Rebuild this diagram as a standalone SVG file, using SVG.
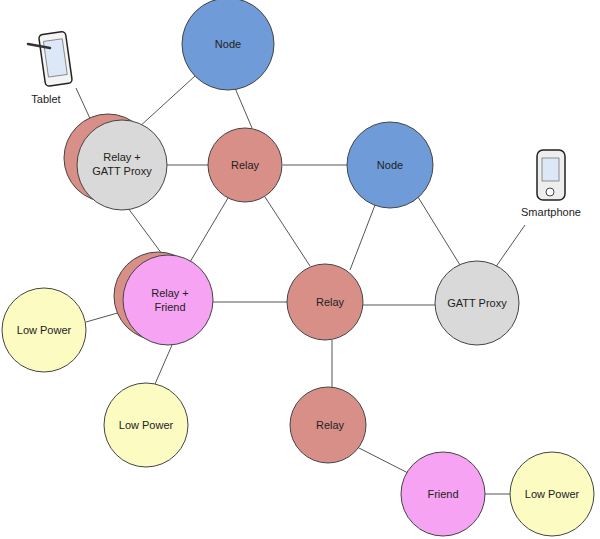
<svg xmlns="http://www.w3.org/2000/svg" width="600" height="539" viewBox="0 0 600 539">
<style>
text{font-family:"Liberation Sans",Arial,sans-serif;font-size:11px;fill:#222;text-anchor:middle}
circle{stroke:#444;stroke-width:1}
.relay{fill:#d88f88}.node{fill:#6f9bd8}.gray{fill:#d9d9d9}.friend{fill:#f7a3f3}.low{fill:#fbfbc2}
#connectors line{stroke:#555;stroke-width:1}
</style>
<rect width="600" height="539" fill="#fff"/>
<g id="connectors">
<line x1="76" y1="88" x2="93" y2="125"/>
<line x1="195" y1="76" x2="138" y2="128"/>
<line x1="235" y1="88" x2="252" y2="128"/>
<line x1="166" y1="165" x2="208" y2="165"/>
<line x1="283" y1="165" x2="347" y2="165"/>
<line x1="128" y1="208" x2="165" y2="258"/>
<line x1="228" y1="198" x2="190" y2="262"/>
<line x1="265" y1="197" x2="310" y2="266"/>
<line x1="375" y1="205" x2="350" y2="270"/>
<line x1="418" y1="197" x2="460" y2="265"/>
<line x1="525" y1="225" x2="495" y2="268"/>
<line x1="213" y1="302" x2="288" y2="302"/>
<line x1="363" y1="305" x2="435" y2="305"/>
<line x1="86" y1="322" x2="135" y2="308"/>
<line x1="155" y1="384" x2="172" y2="345"/>
<line x1="332" y1="340" x2="332" y2="388"/>
<line x1="357" y1="447" x2="410" y2="474"/>
<line x1="485" y1="494" x2="510" y2="494"/>
</g>
<g id="tablet">
<rect x="42" y="33" width="27" height="52" rx="4" fill="#f4f4f4" stroke="#222" stroke-width="1.5" transform="rotate(-8 55 59)"/>
<rect x="46" y="40" width="19" height="36" fill="#dce8f8" stroke="#666" stroke-width="0.7" transform="rotate(-8 55 59)"/>
<line x1="28" y1="44" x2="50" y2="48" stroke="#333" stroke-width="2.5" stroke-linecap="round"/>
<text x="46" y="103">Tablet</text>
</g>
<g id="smartphone">
<rect x="537" y="150" width="28" height="50" rx="6" fill="#eee" stroke="#222" stroke-width="1.5"/>
<rect x="542" y="158" width="17" height="23" fill="#dce8f8" stroke="#666" stroke-width="0.7"/>
<circle cx="550" cy="192" r="4" fill="#fff" stroke="#444" stroke-width="0.8"/>
<text x="551" y="216">Smartphone</text>
</g>
<g id="node1"><circle class="node" cx="228" cy="44" r="46"/><text x="228" y="48">Node</text></g>
<g id="relaygatt"><circle class="relay" cx="108" cy="158" r="44"/><circle class="gray" cx="122" cy="165" r="45"/><text x="122" y="161">Relay +</text><text x="122" y="175">GATT Proxy</text></g>
<g id="relay1"><circle class="relay" cx="245" cy="165" r="37"/><text x="245" y="169">Relay</text></g>
<g id="node2"><circle class="node" cx="390" cy="165" r="43"/><text x="390" y="169">Node</text></g>
<g id="relayfriend"><circle class="relay" cx="158" cy="296" r="44"/><circle class="friend" cx="168" cy="300" r="45"/><text x="170" y="297">Relay +</text><text x="170" y="311">Friend</text></g>
<g id="relay2"><circle class="relay" cx="325" cy="302" r="38"/><text x="330" y="306">Relay</text></g>
<g id="gatt"><circle class="gray" cx="477" cy="303" r="42"/><text x="477" y="307">GATT Proxy</text></g>
<g id="low1"><circle class="low" cx="44" cy="330" r="42"/><text x="44" y="334">Low Power</text></g>
<g id="low2"><circle class="low" cx="146" cy="425" r="42"/><text x="146" y="429">Low Power</text></g>
<g id="relay3"><circle class="relay" cx="328" cy="425" r="38"/><text x="330" y="429">Relay</text></g>
<g id="friend"><circle class="friend" cx="443" cy="494" r="42"/><text x="443" y="498">Friend</text></g>
<g id="low3"><circle class="low" cx="552" cy="494" r="42"/><text x="552" y="498">Low Power</text></g>
</svg>
